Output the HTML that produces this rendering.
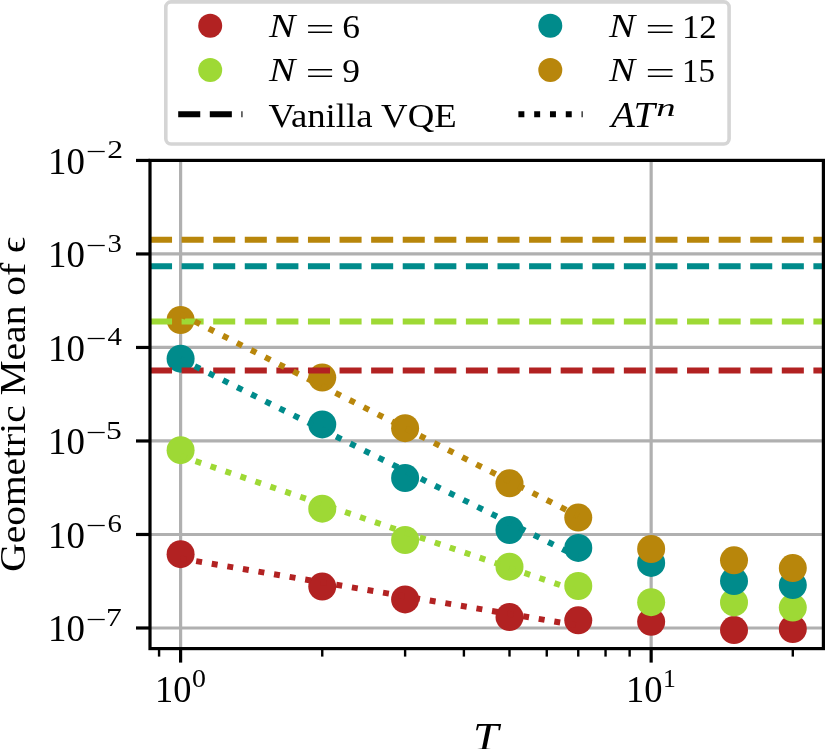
<!DOCTYPE html>
<html><head><meta charset="utf-8"><title>Geometric Mean of epsilon vs T</title>
<style>html,body{margin:0;padding:0;background:#fff;overflow:hidden}svg{display:block}</style>
</head><body>
<svg width="825" height="749" viewBox="0 0 825 749">
<defs><clipPath id="ax"><rect x="150.00" y="160.40" width="673.40" height="488.20"/></clipPath></defs>
<rect width="825" height="749" fill="#fff"/>
<g clip-path="url(#ax)" stroke="#b0b0b0" stroke-width="3.20" fill="none">
<line x1="150.00" y1="253.95" x2="823.40" y2="253.95"/>
<line x1="150.00" y1="347.46" x2="823.40" y2="347.46"/>
<line x1="150.00" y1="440.97" x2="823.40" y2="440.97"/>
<line x1="150.00" y1="534.48" x2="823.40" y2="534.48"/>
<line x1="150.00" y1="627.99" x2="823.40" y2="627.99"/>
<line x1="180.60" y1="160.40" x2="180.60" y2="648.60"/>
<line x1="651.15" y1="160.40" x2="651.15" y2="648.60"/>
</g>
<g clip-path="url(#ax)">
<circle cx="180.60" cy="554.20" r="14.00" fill="#b22222"/>
<circle cx="322.25" cy="586.60" r="14.00" fill="#b22222"/>
<circle cx="405.11" cy="599.40" r="14.00" fill="#b22222"/>
<circle cx="509.50" cy="617.10" r="14.00" fill="#b22222"/>
<circle cx="578.26" cy="620.30" r="14.00" fill="#b22222"/>
<circle cx="651.15" cy="621.80" r="14.00" fill="#b22222"/>
<circle cx="734.01" cy="630.10" r="14.00" fill="#b22222"/>
<circle cx="792.80" cy="629.00" r="14.00" fill="#b22222"/>
<circle cx="180.60" cy="450.20" r="14.00" fill="#9ed935"/>
<circle cx="322.25" cy="508.70" r="14.00" fill="#9ed935"/>
<circle cx="405.11" cy="540.00" r="14.00" fill="#9ed935"/>
<circle cx="509.50" cy="566.70" r="14.00" fill="#9ed935"/>
<circle cx="578.26" cy="586.00" r="14.00" fill="#9ed935"/>
<circle cx="651.15" cy="602.20" r="14.00" fill="#9ed935"/>
<circle cx="734.01" cy="602.40" r="14.00" fill="#9ed935"/>
<circle cx="792.80" cy="607.60" r="14.00" fill="#9ed935"/>
<circle cx="180.60" cy="358.70" r="14.00" fill="#008b8b"/>
<circle cx="322.25" cy="424.40" r="14.00" fill="#008b8b"/>
<circle cx="405.11" cy="478.00" r="14.00" fill="#008b8b"/>
<circle cx="509.50" cy="530.00" r="14.00" fill="#008b8b"/>
<circle cx="578.26" cy="547.90" r="14.00" fill="#008b8b"/>
<circle cx="651.15" cy="562.90" r="14.00" fill="#008b8b"/>
<circle cx="734.01" cy="581.10" r="14.00" fill="#008b8b"/>
<circle cx="792.80" cy="585.10" r="14.00" fill="#008b8b"/>
<circle cx="180.60" cy="320.00" r="14.00" fill="#b8860b"/>
<circle cx="322.25" cy="377.60" r="14.00" fill="#b8860b"/>
<circle cx="405.11" cy="428.20" r="14.00" fill="#b8860b"/>
<circle cx="509.50" cy="483.30" r="14.00" fill="#b8860b"/>
<circle cx="578.26" cy="517.60" r="14.00" fill="#b8860b"/>
<circle cx="651.15" cy="549.00" r="14.00" fill="#b8860b"/>
<circle cx="734.01" cy="560.30" r="14.00" fill="#b8860b"/>
<circle cx="792.80" cy="568.10" r="14.00" fill="#b8860b"/>
</g>
<g clip-path="url(#ax)" fill="none" stroke-width="5.96" stroke-linecap="butt">
<line x1="150.00" y1="370.60" x2="823.40" y2="370.60" stroke="#b22222" stroke-dasharray="22.05 9.54"/>
<line x1="180.60" y1="558.50" x2="578.26" y2="625.50" stroke="#b22222" stroke-dasharray="5.96 9.83"/>
<line x1="150.00" y1="321.45" x2="823.40" y2="321.45" stroke="#9ed935" stroke-dasharray="22.05 9.54"/>
<line x1="180.60" y1="456.10" x2="578.26" y2="591.20" stroke="#9ed935" stroke-dasharray="5.96 9.83"/>
<line x1="150.00" y1="266.20" x2="823.40" y2="266.20" stroke="#008b8b" stroke-dasharray="22.05 9.54"/>
<line x1="180.60" y1="359.10" x2="578.26" y2="557.00" stroke="#008b8b" stroke-dasharray="5.96 9.83"/>
<line x1="150.00" y1="239.80" x2="823.40" y2="239.80" stroke="#b8860b" stroke-dasharray="22.05 9.54"/>
<line x1="180.60" y1="314.30" x2="578.26" y2="516.00" stroke="#b8860b" stroke-dasharray="5.96 9.83"/>
</g>
<rect x="150.00" y="160.40" width="673.40" height="488.20" fill="none" stroke="#000" stroke-width="3.20" stroke-linejoin="miter"/>
<g stroke="#000" stroke-width="3.20">
<line x1="136.00" y1="160.44" x2="150.00" y2="160.44"/>
<line x1="136.00" y1="253.95" x2="150.00" y2="253.95"/>
<line x1="136.00" y1="347.46" x2="150.00" y2="347.46"/>
<line x1="136.00" y1="440.97" x2="150.00" y2="440.97"/>
<line x1="136.00" y1="534.48" x2="150.00" y2="534.48"/>
<line x1="136.00" y1="627.99" x2="150.00" y2="627.99"/>
<line x1="180.60" y1="648.60" x2="180.60" y2="662.60"/>
<line x1="651.15" y1="648.60" x2="651.15" y2="662.60"/>
</g><g stroke="#000" stroke-width="2.4">
<line x1="159.07" y1="648.60" x2="159.07" y2="656.60"/>
<line x1="322.25" y1="648.60" x2="322.25" y2="656.60"/>
<line x1="405.11" y1="648.60" x2="405.11" y2="656.60"/>
<line x1="463.90" y1="648.60" x2="463.90" y2="656.60"/>
<line x1="509.50" y1="648.60" x2="509.50" y2="656.60"/>
<line x1="546.76" y1="648.60" x2="546.76" y2="656.60"/>
<line x1="578.26" y1="648.60" x2="578.26" y2="656.60"/>
<line x1="605.55" y1="648.60" x2="605.55" y2="656.60"/>
<line x1="629.62" y1="648.60" x2="629.62" y2="656.60"/>
<line x1="792.80" y1="648.60" x2="792.80" y2="656.60"/>
</g>
<g font-family="'Liberation Serif', serif" fill="#000">
<text transform="translate(155.09,702.30) scale(0.9697,1)" font-size="37.54">10</text>
<text transform="translate(191.91,687.10) scale(1.0909,1)" font-size="25.54">0</text>
<text transform="translate(625.98,702.30) scale(0.9727,1)" font-size="37.54">10</text>
<text transform="translate(662.88,687.20) scale(1.0111,1)" font-size="25.38">1</text>
<text transform="translate(48.04,173.74) scale(0.9879,1)" font-size="37.38">10</text>
<text transform="translate(107.36,158.44) scale(1.2400,1)" font-size="25.54">2</text>
<text transform="translate(85.97,160.24) scale(1.4333,1)" font-size="25.54">−</text>
<text transform="translate(48.04,267.25) scale(0.9879,1)" font-size="37.38">10</text>
<text transform="translate(107.47,251.95) scale(1.1273,1)" font-size="25.54">3</text>
<text transform="translate(85.97,253.75) scale(1.4333,1)" font-size="25.54">−</text>
<text transform="translate(48.04,360.76) scale(0.9879,1)" font-size="37.38">10</text>
<text transform="translate(107.47,345.46) scale(1.1273,1)" font-size="25.54">4</text>
<text transform="translate(85.97,347.26) scale(1.4333,1)" font-size="25.54">−</text>
<text transform="translate(48.04,454.27) scale(0.9879,1)" font-size="37.38">10</text>
<text transform="translate(106.12,438.97) scale(1.2400,1)" font-size="25.54">5</text>
<text transform="translate(85.97,440.77) scale(1.4333,1)" font-size="25.54">−</text>
<text transform="translate(48.04,547.78) scale(0.9879,1)" font-size="37.38">10</text>
<text transform="translate(107.47,532.48) scale(1.1273,1)" font-size="25.54">6</text>
<text transform="translate(85.97,534.28) scale(1.4333,1)" font-size="25.54">−</text>
<text transform="translate(48.04,641.29) scale(0.9879,1)" font-size="37.38">10</text>
<text transform="translate(106.12,625.99) scale(1.2400,1)" font-size="25.54">7</text>
<text transform="translate(85.97,627.79) scale(1.4333,1)" font-size="25.54">−</text>
<text transform="translate(472.96,750.40) scale(1.1455,1)" font-size="40.00"><tspan font-style="italic">T</tspan></text>
<text transform="translate(25.00,571.82) rotate(-90) scale(1.1090,1)" font-size="35.59">Geometric Mean of ϵ</text>
</g>
<rect x="165.8" y="1.9" width="563.3" height="142.15" rx="5.2" ry="5.2" fill="#fff" stroke="#d5d5d5" stroke-width="3.6"/>
<circle cx="210.20" cy="25.70" r="12" fill="#b22222"/>
<circle cx="210.20" cy="69.90" r="12" fill="#9ed935"/>
<circle cx="550.30" cy="25.70" r="12" fill="#008b8b"/>
<circle cx="550.30" cy="69.90" r="12" fill="#b8860b"/>
<line x1="178.2" y1="114.2" x2="242.5" y2="114.2" stroke="#000" stroke-width="5.96" stroke-dasharray="22.05 9.54"/>
<line x1="518.4" y1="114.2" x2="582.7" y2="114.2" stroke="#000" stroke-width="5.96" stroke-dasharray="5.96 9.83"/>
<g font-family="'Liberation Serif', serif" fill="#000">
<text transform="translate(269.10,36.90) scale(1.1500,1)" font-size="34.46"><tspan font-style="italic">N</tspan></text>
<text transform="translate(305.47,39.70) scale(1.6143,1)" font-size="32.00">=</text>
<text transform="translate(342.22,38.00) scale(1.0786,1)" font-size="32.92">6</text>
<text transform="translate(609.00,36.90) scale(1.1417,1)" font-size="34.46"><tspan font-style="italic">N</tspan></text>
<text transform="translate(645.29,39.70) scale(1.6571,1)" font-size="32.00">=</text>
<text transform="translate(681.91,38.00) scale(1.0643,1)" font-size="32.77">12</text>
<text transform="translate(269.10,81.10) scale(1.1500,1)" font-size="34.46"><tspan font-style="italic">N</tspan></text>
<text transform="translate(305.47,83.90) scale(1.6143,1)" font-size="32.00">=</text>
<text transform="translate(342.22,82.20) scale(1.0786,1)" font-size="32.92">9</text>
<text transform="translate(609.00,81.10) scale(1.1417,1)" font-size="34.46"><tspan font-style="italic">N</tspan></text>
<text transform="translate(645.29,83.90) scale(1.6571,1)" font-size="32.00">=</text>
<text transform="translate(682.09,82.20) scale(1.0034,1)" font-size="32.77">15</text>
<text transform="translate(268.40,126.50) scale(1.0895,1)" font-size="33.76">Vanilla VQE</text>
<text transform="translate(611.30,126.90) scale(1.1000,1)" font-size="35.08"><tspan font-style="italic">AT</tspan></text>
<text transform="translate(656.30,115.50) scale(1.6000,1)" font-size="24.21"><tspan font-style="italic">n</tspan></text>
</g>
</svg>
</body></html>
